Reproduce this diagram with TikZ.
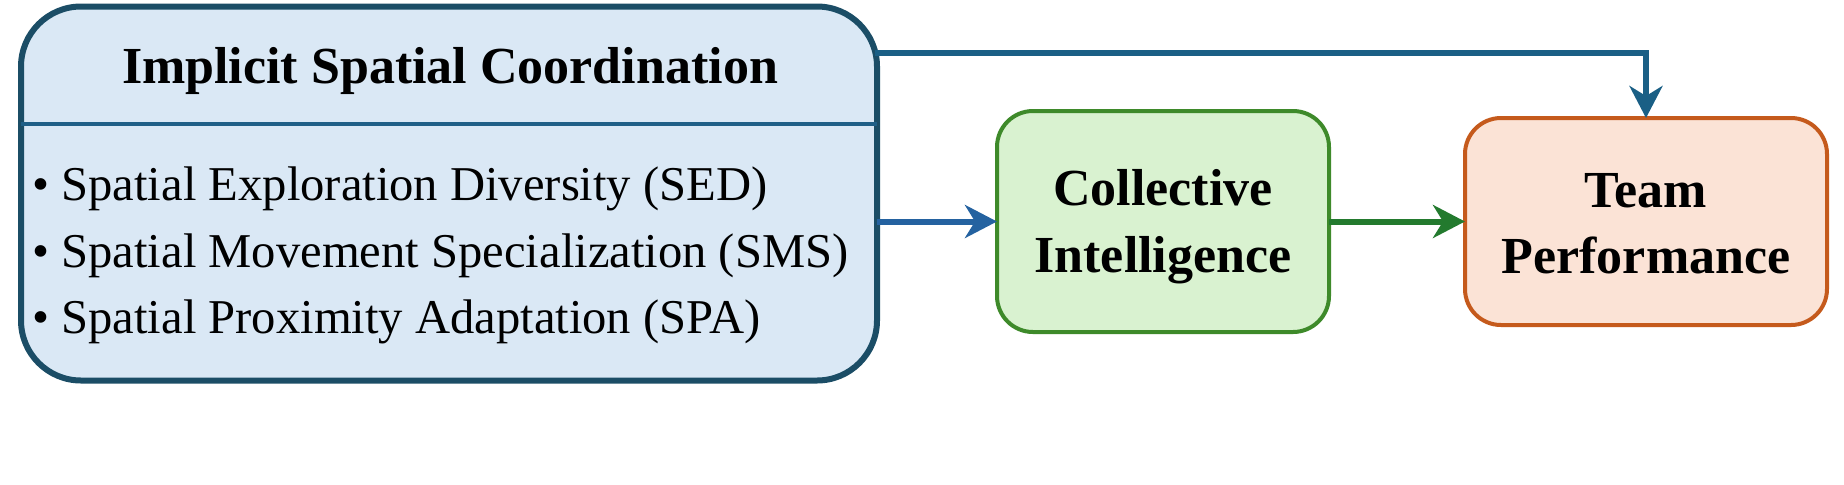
\documentclass[tikz,border=0pt]{standalone}
\usepackage{fontspec}
\setmainfont{Liberation Serif}
\usetikzlibrary{arrows.meta,calc}
\definecolor{icsfill}{HTML}{DAE8F5}
\definecolor{icsdraw}{HTML}{1B4D66}
\definecolor{divline}{HTML}{1F5F87}
\definecolor{toparr}{HTML}{1A5F85}
\definecolor{bluearr}{HTML}{2462A0}
\definecolor{cifill}{HTML}{D9F2D0}
\definecolor{cidraw}{HTML}{3E8A2A}
\definecolor{greenarr}{HTML}{237A2E}
\definecolor{tpfill}{HTML}{FBE3D6}
\definecolor{tpdraw}{HTML}{C55A1C}
\tikzset{
  boxbase/.style={inner sep=0pt, outer sep=0pt},
  icsbox/.style={boxbase, draw=icsdraw, fill=icsfill, line width=3pt, rounded corners=30pt, minimum width=428pt, minimum height=187pt},
  cibox/.style={boxbase, draw=cidraw, fill=cifill, line width=2pt, rounded corners=18pt, minimum width=166pt, minimum height=110.5pt},
  tpbox/.style={boxbase, draw=tpdraw, fill=tpfill, line width=2pt, rounded corners=18pt, minimum width=181pt, minimum height=103.5pt},
  boldtxt/.style={inner sep=0pt, anchor=base, font=\bfseries\fontsize{26}{30}\selectfont},
  itemtxt/.style={inner sep=0pt, anchor=base west, font=\fontsize{24.3}{28}\selectfont},
  conn/.style={line width=3pt, -{Stealth[length=16pt, width=16.5pt, inset=5pt]}},
}
\begin{document}
\begin{tikzpicture}[x=0.5pt, y=-0.5pt]
\useasboundingbox (0,0) rectangle (1844,484);
% boxes
\node[icsbox] (ics) at (449,193.5) {};
\node[cibox] (ci) at (1163,221.5) {};
\node[tpbox] (tp) at (1646,221.5) {};
% divider
\coordinate (divl) at (ics.west |- 0,124);
\coordinate (divr) at (ics.east |- 0,124);
\draw[divline, line width=2pt] (divl) -- (divr);
% texts
\node[boldtxt] (title) at (450,83) {Implicit Spatial Coordination};
\node[itemtxt] (sed) at (32,200) {\textbullet\ Spatial Exploration Diversity (SED)};
\node[itemtxt] (sms) at (32,267) {\textbullet\ Spatial Movement Specialization (SMS)};
\node[itemtxt] (spa) at (32,333) {\textbullet\ Spatial Proximity Adaptation (SPA)};
\node[boldtxt] (ci1) at (1163,205) {Collective};
\node[boldtxt] (ci2) at (1163,272) {Intelligence};
\node[boldtxt] (tp1) at (1646,207) {Team};
\node[boldtxt] (tp2) at (1646,273) {Performance};
% connectors
\coordinate (topstart) at ($(ics.east |- 0,53)+(-2,0)$);
\draw[conn, toparr] (topstart) -| (tp.north);
\draw[conn, bluearr] (ics.east |- ci.west) -- (ci.west);
\draw[conn, greenarr] (ci.east) -- (tp.west);
\end{tikzpicture}
\end{document}
